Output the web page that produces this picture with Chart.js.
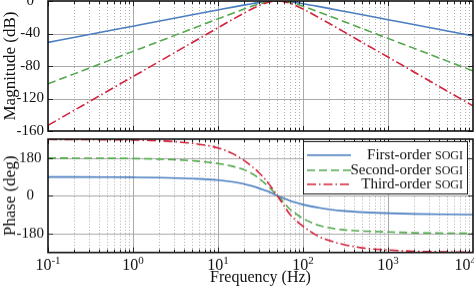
<!DOCTYPE html>
<html>
<head>
<meta charset="utf-8">
<script src="https://cdn.jsdelivr.net/npm/chart.js@4.4.1/dist/chart.umd.min.js"></script>
<style>
    html, body { margin: 0; padding: 0; background: #fff; }
    #wrap { position: relative; width: 474px; height: 287px; overflow: hidden; }
    .box { position: absolute; left: 0; width: 474px; }
</style>
</head>
<body>
<div id="wrap">
    <div class="box" style="top:-12.5px;height:156px"><canvas id="magChart"></canvas></div>
    <div class="box" style="top:126.3px;height:160.7px"><canvas id="phaseChart"></canvas></div>
</div>
<script>
// Frequencies (Hz) read along the log axis
const freqs = [0.1, 0.2, 0.5, 1, 2, 5, 10, 15, 20, 25, 30, 35, 40, 45, 50, 55, 60, 70, 80, 100, 150, 200, 300, 500, 1000, 2000, 5000, 10000];

// Magnitude (dB)
const magFirst = [-51, -45, -37, -31, -25, -17, -11, -7.5, -5.1, -3.3, -2, -1, -0.4, -0.1, 0, -0.1, -0.3, -0.9, -1.7, -3.3, -6.6, -9.1, -12.6, -17, -23, -29, -37, -43];
const magSecond = [-102, -90, -74, -62, -50, -34, -22, -15, -10.1, -6.5, -3.9, -2, -0.8, -0.2, 0, -0.2, -0.6, -1.8, -3.4, -6.5, -13.2, -18.1, -25.1, -34, -46, -58, -74, -86];
const magThird = [-153, -135, -111, -93, -75, -51, -33, -22.4, -15.2, -9.8, -5.9, -3.1, -1.3, -0.3, 0, -0.2, -0.8, -2.8, -5.1, -9.8, -19.8, -27.2, -37.7, -51, -69, -87, -111, -129];

// Phase (deg)
const phaseFirst = [89.8, 89.7, 89.2, 88.4, 86.8, 82, 75, 66, 57, 47, 37, 27, 18, 9, 0, -7, -13, -23, -31, -42, -56, -64, -72, -78, -83, -86.5, -88.5, -89.3];
const phaseSecond = [179.6, 179.3, 178.6, 177.5, 175, 167, 154, 140, 125, 106, 85, 62, 41, 19, 0, -17, -34, -63, -82, -108, -140, -152, -162, -168, -172, -176, -178, -179];
const phaseThird = [268.5, 268, 267, 265.5, 262, 250, 228, 200, 170, 140, 112, 84, 55, 27, 0, -25, -48, -88, -112, -145, -192, -212, -232, -248, -258, -264, -267, -268.5];

// Tick labels / series names
const decadeTicks = [0.1, 1, 10, 100, 1000, 10000];
const magTicks = [0, -40, -80, -120, -160];
const phaseTicks = [180, 0, -180];
const seriesNames = ['First-order', 'Second-order', 'Third-order'];
const seriesSuffix = 'SOGI';

const SERIF = '"Liberation Serif", "Times New Roman", serif';
const colors = ['#4a7ebf', '#52a84c', '#d5213b'];
const dashes = [[], [8, 4], [9, 3, 1.5, 3]];

function line(ctx, x1, y1, x2, y2) {
    ctx.beginPath();
    ctx.moveTo(x1, y1);
    ctx.lineTo(x2, y2);
    ctx.stroke();
}

// grid, frame, inward ticks, legend and x labels
const frame = {
    id: 'frame',
    beforeDatasetsDraw(chart) {
        const { ctx, chartArea: a, scales: { x, y } } = chart;
        ctx.save();
        ctx.lineWidth = 1;
        ctx.strokeStyle = '#b0b0b0';
        ctx.setLineDash([1, 2]);
        for (let d = -1; d < 4; d++) {
            for (let m = 2; m < 10; m++) {
                const px = Math.round(x.getPixelForValue(m * Math.pow(10, d))) + 0.5;
                line(ctx, px, a.top, px, a.bottom);
            }
        }
        ctx.setLineDash([]);
        ctx.strokeStyle = '#aaaaaa';
        decadeTicks.slice(1, -1).forEach(v => {
            const px = Math.round(x.getPixelForValue(v)) + 0.5;
            line(ctx, px, a.top, px, a.bottom);
        });
        y.ticks.forEach(t => {
            if (t.value > y.min && t.value < y.max) {
                const py = Math.round(y.getPixelForValue(t.value)) + 0.5;
                line(ctx, a.left, py, a.right, py);
            }
        });
        ctx.restore();
    },
    afterDatasetsDraw(chart, args, opts) {
        const { ctx, chartArea: a, scales: { x, y } } = chart;
        ctx.save();
        ctx.strokeStyle = '#222';
        ctx.lineWidth = 1;
        // inward tick marks
        for (let d = -1; d < 4; d++) {
            for (let m = 1; m < 10; m++) {
                const v = m * Math.pow(10, d);
                const px = Math.round(x.getPixelForValue(v)) + 0.5;
                const len = m === 1 ? 5 : 3;
                line(ctx, px, a.bottom, px, a.bottom - len);
                line(ctx, px, a.top, px, a.top + len);
            }
        }
        y.ticks.forEach(t => {
            const py = Math.round(y.getPixelForValue(t.value)) + 0.5;
            line(ctx, a.left, py, a.left + 5, py);
            line(ctx, a.right, py, a.right - 5, py);
        });
        // frame
        ctx.lineWidth = 1.6;
        ctx.strokeStyle = '#111';
        ctx.strokeRect(a.left, a.top, a.right - a.left, a.bottom - a.top);

        if (opts.xLabels) {
            ctx.fillStyle = '#111';
            ctx.textBaseline = 'alphabetic';
            ctx.textAlign = 'left';
            decadeTicks.forEach((v, i) => {
                const e = String(Math.round(Math.log10(v)));
                const px = x.getPixelForValue(v);
                ctx.font = '16px ' + SERIF;
                const bw = ctx.measureText('10').width;
                ctx.font = '11px ' + SERIF;
                const ew = ctx.measureText(e).width;
                let x0 = px - (bw + ew) / 2;
                if (i === decadeTicks.length - 1) x0 = Math.min(x0, chart.width - bw - ew + 2);
                const base = a.bottom + 17;
                ctx.font = '16px ' + SERIF;
                ctx.fillText('10', x0, base);
                ctx.font = '11px ' + SERIF;
                ctx.fillText(e, x0 + bw, base - 6);
            });
        }

        if (opts.legend) {
            const lx = a.right - 170, ly = a.top + 2, lw = 164, lh = 52;
            ctx.fillStyle = '#fff';
            ctx.fillRect(lx, ly, lw, lh);
            ctx.lineWidth = 1;
            ctx.strokeStyle = '#222';
            ctx.strokeRect(lx + 0.5, ly + 0.5, lw, lh);
            const rows = [14, 29, 43];
            seriesNames.forEach((name, i) => {
                const ry = ly + rows[i];
                ctx.strokeStyle = colors[i];
                ctx.lineWidth = 1.6;
                ctx.setLineDash(dashes[i]);
                line(ctx, lx + 4, ry, lx + 48, ry);
                ctx.setLineDash([]);
                ctx.fillStyle = '#111';
                ctx.textBaseline = 'middle';
                ctx.textAlign = 'right';
                ctx.font = '12px ' + SERIF;
                const sw = ctx.measureText(seriesSuffix).width;
                const tx = lx + lw - 4;
                ctx.fillText(seriesSuffix, tx, ry + 1);
                ctx.font = '15px ' + SERIF;
                ctx.fillText(name + ' ', tx - sw, ry);
            });
        }
        ctx.restore();
    }
};

function makeSets(series) {
    return series.map((vals, i) => ({
        label: seriesNames[i] + ' ' + seriesSuffix,
        data: freqs.map((f, j) => ({ x: f, y: vals[j] })),
        borderColor: colors[i],
        borderWidth: 1.6,
        borderDash: dashes[i],
        pointRadius: 0,
        fill: false,
        cubicInterpolationMode: 'monotone',
        order: 3 - i
    }));
}

function yAxis(min, max, ticks, title) {
    return {
        type: 'linear',
        min: min,
        max: max,
        afterBuildTicks: s => { s.ticks = ticks.map(v => ({ value: v })); },
        afterFit: s => { s.width = 48; },
        grid: { display: false, drawTicks: false },
        border: { display: false },
        ticks: { color: '#111', font: { family: SERIF, size: 15 }, padding: 4, crossAlign: 'center' },
        title: { display: true, text: title, color: '#111', font: { family: SERIF, size: 17 }, padding: 0 }
    };
}

const common = {
    responsive: true,
    maintainAspectRatio: false,
    animation: false,
    layout: { padding: { left: 0, right: 1, top: 0, bottom: 0 } },
    plugins: { legend: { display: false }, tooltip: { enabled: false } }
};

new Chart(document.getElementById('magChart'), {
    type: 'line',
    data: { datasets: makeSets([magFirst, magSecond, magThird]) },
    options: {
        ...common,
        plugins: { ...common.plugins, frame: { legend: false, xLabels: false } },
        scales: {
            x: { type: 'logarithmic', min: 0.1, max: 10000, display: false },
            y: yAxis(-160, 0, magTicks, 'Magnitude (dB)')
        }
    },
    plugins: [frame]
});

new Chart(document.getElementById('phaseChart'), {
    type: 'line',
    data: { datasets: makeSets([phaseFirst, phaseSecond, phaseThird]) },
    options: {
        ...common,
        plugins: { ...common.plugins, frame: { legend: true, xLabels: true } },
        scales: {
            x: {
                type: 'logarithmic',
                min: 0.1,
                max: 10000,
                afterBuildTicks: s => { s.ticks = decadeTicks.map(v => ({ value: v, major: true })); },
                afterFit: s => { s.height = 35; },
                grid: { display: false, drawTicks: false },
                border: { display: false },
                ticks: { display: false },
                title: { display: true, text: 'Frequency (Hz)', color: '#111', font: { family: SERIF, size: 16 }, padding: { top: 0, bottom: 0 } }
            },
            y: yAxis(-270, 270, phaseTicks, 'Phase (deg)')
        }
    },
    plugins: [frame]
});
</script>
</body>
</html>
